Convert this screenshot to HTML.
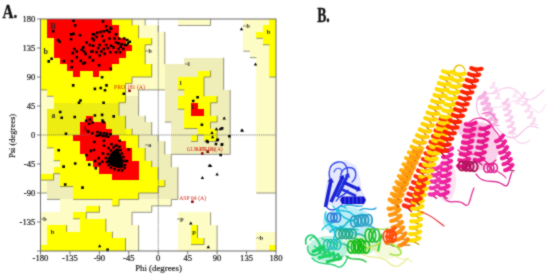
<!DOCTYPE html>
<html><head><meta charset="utf-8"><title>Ramachandran plot and structure</title>
<style>html,body{margin:0;padding:0;background:#fff;}body{width:550px;height:277px;overflow:hidden;}svg{display:block;}#fig{width:550px;height:277px;}</style>
</head><body>
<div id="fig">
<svg width="550" height="277" viewBox="0 0 550 277">
<defs><linearGradient id="gOr" gradientUnits="userSpaceOnUse" x1="0" y1="70" x2="0" y2="247"><stop offset="0" stop-color="#ffe000"/><stop offset="0.35" stop-color="#ffd000"/><stop offset="0.55" stop-color="#ffac10"/><stop offset="1" stop-color="#ff8a10"/></linearGradient></defs>
<defs><filter id="soft" x="0" y="0" width="100%" height="100%" filterUnits="userSpaceOnUse" color-interpolation-filters="sRGB"><feConvolveMatrix order="3" kernelMatrix="1 2 1 2 12 2 1 2 1" divisor="24" edgeMode="duplicate"/></filter></defs>
<g filter="url(#soft)">
<rect width="550" height="277" fill="#fff"/>
<g shape-rendering="crispEdges"><rect x="40.5" y="19" width="6.56" height="6.46" fill="#ffff00"/><rect x="47.04" y="19" width="65.44" height="6.46" fill="#ff0000"/><rect x="112.46" y="19" width="19.64" height="6.46" fill="#ffff00"/><rect x="132.08" y="19" width="13.1" height="6.46" fill="#fdfcc4"/><rect x="177.88" y="19" width="32.73" height="6.46" fill="#fdfcc4"/><rect x="243.29" y="19" width="26.19" height="6.46" fill="#fdfcc4"/><rect x="269.46" y="19" width="6.56" height="6.46" fill="#ffff00"/><rect x="40.5" y="25.44" width="6.56" height="6.46" fill="#ffff00"/><rect x="47.04" y="25.44" width="71.98" height="6.46" fill="#ff0000"/><rect x="119" y="25.44" width="19.64" height="6.46" fill="#ffff00"/><rect x="138.62" y="25.44" width="19.64" height="6.46" fill="#fdfcc4"/><rect x="243.29" y="25.44" width="19.64" height="6.46" fill="#fdfcc4"/><rect x="262.92" y="25.44" width="13.1" height="6.46" fill="#ffff00"/><rect x="40.5" y="31.89" width="6.56" height="6.46" fill="#ffff00"/><rect x="47.04" y="31.89" width="71.98" height="6.46" fill="#ff0000"/><rect x="119" y="31.89" width="19.64" height="6.46" fill="#ffff00"/><rect x="138.62" y="31.89" width="26.19" height="6.46" fill="#fdfcc4"/><rect x="243.29" y="31.89" width="13.1" height="6.46" fill="#fdfcc4"/><rect x="256.38" y="31.89" width="19.64" height="6.46" fill="#ffff00"/><rect x="40.5" y="38.33" width="13.1" height="6.46" fill="#ffff00"/><rect x="53.58" y="38.33" width="71.98" height="6.46" fill="#ff0000"/><rect x="125.54" y="38.33" width="26.19" height="6.46" fill="#ffff00"/><rect x="151.71" y="38.33" width="13.1" height="6.46" fill="#fdfcc4"/><rect x="243.29" y="38.33" width="19.64" height="6.46" fill="#fdfcc4"/><rect x="262.92" y="38.33" width="13.1" height="6.46" fill="#ffff00"/><rect x="40.5" y="44.78" width="13.1" height="6.46" fill="#ffff00"/><rect x="53.58" y="44.78" width="78.52" height="6.46" fill="#ff0000"/><rect x="132.08" y="44.78" width="13.1" height="6.46" fill="#ffff00"/><rect x="145.17" y="44.78" width="19.64" height="6.46" fill="#fdfcc4"/><rect x="243.29" y="44.78" width="26.19" height="6.46" fill="#fdfcc4"/><rect x="269.46" y="44.78" width="6.56" height="6.46" fill="#ffff00"/><rect x="40.5" y="51.22" width="13.1" height="6.46" fill="#ffff00"/><rect x="53.58" y="51.22" width="71.98" height="6.46" fill="#ff0000"/><rect x="125.54" y="51.22" width="19.65" height="6.46" fill="#ffff00"/><rect x="145.17" y="51.22" width="19.64" height="6.46" fill="#fdfcc4"/><rect x="249.83" y="51.22" width="19.65" height="6.46" fill="#fdfcc4"/><rect x="269.46" y="51.22" width="6.56" height="6.46" fill="#ffff00"/><rect x="40.5" y="57.67" width="19.64" height="6.46" fill="#ffff00"/><rect x="60.12" y="57.67" width="58.9" height="6.46" fill="#ff0000"/><rect x="119" y="57.67" width="26.19" height="6.46" fill="#ffff00"/><rect x="145.17" y="57.67" width="19.64" height="6.46" fill="#fdfcc4"/><rect x="184.42" y="57.67" width="39.27" height="6.46" fill="#efedb8"/><rect x="256.38" y="57.67" width="13.1" height="6.46" fill="#fdfcc4"/><rect x="269.46" y="57.67" width="6.56" height="6.46" fill="#ffff00"/><rect x="40.5" y="64.11" width="26.19" height="6.46" fill="#ffff00"/><rect x="66.67" y="64.11" width="45.81" height="6.46" fill="#ff0000"/><rect x="112.46" y="64.11" width="39.27" height="6.46" fill="#ffff00"/><rect x="151.71" y="64.11" width="13.1" height="6.46" fill="#fdfcc4"/><rect x="164.79" y="64.11" width="58.9" height="6.46" fill="#efedb8"/><rect x="256.38" y="64.11" width="13.1" height="6.46" fill="#fdfcc4"/><rect x="269.46" y="64.11" width="6.56" height="6.46" fill="#ffff00"/><rect x="40.5" y="70.56" width="32.73" height="6.46" fill="#ffff00"/><rect x="73.21" y="70.56" width="6.56" height="6.46" fill="#ff0000"/><rect x="79.75" y="70.56" width="13.1" height="6.46" fill="#ffff00"/><rect x="92.83" y="70.56" width="6.56" height="6.46" fill="#ff0000"/><rect x="99.38" y="70.56" width="52.35" height="6.46" fill="#ffff00"/><rect x="151.71" y="70.56" width="13.1" height="6.46" fill="#fdfcc4"/><rect x="164.79" y="70.56" width="32.73" height="6.46" fill="#efedb8"/><rect x="197.5" y="70.56" width="13.1" height="6.46" fill="#ffff00"/><rect x="210.58" y="70.56" width="13.1" height="6.46" fill="#efedb8"/><rect x="256.38" y="70.56" width="13.1" height="6.46" fill="#fdfcc4"/><rect x="269.46" y="70.56" width="6.56" height="6.46" fill="#ffff00"/><rect x="40.5" y="77" width="91.6" height="6.46" fill="#ffff00"/><rect x="132.08" y="77" width="32.73" height="6.46" fill="#fdfcc4"/><rect x="164.79" y="77" width="13.1" height="6.46" fill="#efedb8"/><rect x="177.88" y="77" width="26.19" height="6.46" fill="#ffff00"/><rect x="204.04" y="77" width="19.64" height="6.46" fill="#efedb8"/><rect x="256.38" y="77" width="19.64" height="6.46" fill="#fdfcc4"/><rect x="40.5" y="83.44" width="85.06" height="6.46" fill="#ffff00"/><rect x="125.54" y="83.44" width="39.27" height="6.46" fill="#fdfcc4"/><rect x="164.79" y="83.44" width="13.1" height="6.46" fill="#efedb8"/><rect x="177.88" y="83.44" width="26.19" height="6.46" fill="#ffff00"/><rect x="204.04" y="83.44" width="19.64" height="6.46" fill="#efedb8"/><rect x="256.38" y="83.44" width="19.64" height="6.46" fill="#fdfcc4"/><rect x="40.5" y="89.89" width="6.56" height="6.46" fill="#fdfcc4"/><rect x="47.04" y="89.89" width="78.52" height="6.46" fill="#ffff00"/><rect x="125.54" y="89.89" width="13.1" height="6.46" fill="#fdfcc4"/><rect x="164.79" y="89.89" width="19.64" height="6.46" fill="#efedb8"/><rect x="184.42" y="89.89" width="19.64" height="6.46" fill="#ffff00"/><rect x="204.04" y="89.89" width="26.19" height="6.46" fill="#efedb8"/><rect x="256.38" y="89.89" width="19.64" height="6.46" fill="#fdfcc4"/><rect x="40.5" y="96.33" width="13.1" height="6.46" fill="#fdfcc4"/><rect x="53.58" y="96.33" width="71.98" height="6.46" fill="#ffff00"/><rect x="125.54" y="96.33" width="13.1" height="6.46" fill="#efedb8"/><rect x="164.79" y="96.33" width="13.1" height="6.46" fill="#efedb8"/><rect x="177.88" y="96.33" width="39.27" height="6.46" fill="#ffff00"/><rect x="217.12" y="96.33" width="13.1" height="6.46" fill="#efedb8"/><rect x="256.38" y="96.33" width="19.64" height="6.46" fill="#fdfcc4"/><rect x="40.5" y="102.78" width="13.1" height="6.46" fill="#fdfcc4"/><rect x="53.58" y="102.78" width="65.44" height="6.46" fill="#eeed12"/><rect x="119" y="102.78" width="19.64" height="6.46" fill="#efedb8"/><rect x="164.79" y="102.78" width="13.1" height="6.46" fill="#efedb8"/><rect x="177.88" y="102.78" width="13.1" height="6.46" fill="#ffff00"/><rect x="190.96" y="102.78" width="6.56" height="6.46" fill="#ff0000"/><rect x="197.5" y="102.78" width="13.1" height="6.46" fill="#ffff00"/><rect x="210.58" y="102.78" width="19.64" height="6.46" fill="#efedb8"/><rect x="256.38" y="102.78" width="19.64" height="6.46" fill="#fdfcc4"/><rect x="40.5" y="109.22" width="6.56" height="6.46" fill="#fdfcc4"/><rect x="47.04" y="109.22" width="71.98" height="6.46" fill="#eeed12"/><rect x="119" y="109.22" width="19.64" height="6.46" fill="#efedb8"/><rect x="164.79" y="109.22" width="19.64" height="6.46" fill="#efedb8"/><rect x="184.42" y="109.22" width="6.56" height="6.46" fill="#ffff00"/><rect x="190.96" y="109.22" width="13.1" height="6.46" fill="#ff0000"/><rect x="204.04" y="109.22" width="6.56" height="6.46" fill="#ffff00"/><rect x="210.58" y="109.22" width="19.64" height="6.46" fill="#efedb8"/><rect x="256.38" y="109.22" width="19.64" height="6.46" fill="#fdfcc4"/><rect x="40.5" y="115.67" width="6.56" height="6.46" fill="#fdfcc4"/><rect x="47.04" y="115.67" width="39.27" height="6.46" fill="#eeed12"/><rect x="86.29" y="115.67" width="6.56" height="6.46" fill="#ff0000"/><rect x="92.83" y="115.67" width="32.73" height="6.46" fill="#eeed12"/><rect x="125.54" y="115.67" width="19.65" height="6.46" fill="#efedb8"/><rect x="164.79" y="115.67" width="19.64" height="6.46" fill="#efedb8"/><rect x="184.42" y="115.67" width="32.73" height="6.46" fill="#ffff00"/><rect x="217.12" y="115.67" width="13.1" height="6.46" fill="#efedb8"/><rect x="256.38" y="115.67" width="19.64" height="6.46" fill="#fdfcc4"/><rect x="40.5" y="122.11" width="6.56" height="6.46" fill="#fdfcc4"/><rect x="47.04" y="122.11" width="32.73" height="6.46" fill="#eeed12"/><rect x="79.75" y="122.11" width="26.19" height="6.46" fill="#ff0000"/><rect x="105.92" y="122.11" width="19.64" height="6.46" fill="#eeed12"/><rect x="125.54" y="122.11" width="26.19" height="6.46" fill="#efedb8"/><rect x="171.33" y="122.11" width="13.1" height="6.46" fill="#efedb8"/><rect x="184.42" y="122.11" width="26.19" height="6.46" fill="#ffff00"/><rect x="210.58" y="122.11" width="19.64" height="6.46" fill="#efedb8"/><rect x="256.38" y="122.11" width="19.64" height="6.46" fill="#fdfcc4"/><rect x="40.5" y="128.56" width="6.56" height="6.46" fill="#fdfcc4"/><rect x="47.04" y="128.56" width="32.73" height="6.46" fill="#eeed12"/><rect x="79.75" y="128.56" width="32.73" height="6.46" fill="#ff0000"/><rect x="112.46" y="128.56" width="13.1" height="6.46" fill="#eeed12"/><rect x="125.54" y="128.56" width="6.56" height="6.46" fill="#ffff00"/><rect x="132.08" y="128.56" width="19.64" height="6.46" fill="#efedb8"/><rect x="171.33" y="128.56" width="26.19" height="6.46" fill="#efedb8"/><rect x="197.5" y="128.56" width="19.64" height="6.46" fill="#ffff00"/><rect x="217.12" y="128.56" width="13.1" height="6.46" fill="#efedb8"/><rect x="256.38" y="128.56" width="19.64" height="6.46" fill="#fdfcc4"/><rect x="40.5" y="135" width="6.56" height="6.46" fill="#fdfcc4"/><rect x="47.04" y="135" width="26.19" height="6.46" fill="#ffff00"/><rect x="73.21" y="135" width="45.81" height="6.46" fill="#ff0000"/><rect x="119" y="135" width="19.64" height="6.46" fill="#ffff00"/><rect x="138.62" y="135" width="19.64" height="6.46" fill="#efedb8"/><rect x="171.33" y="135" width="19.64" height="6.46" fill="#efedb8"/><rect x="190.96" y="135" width="6.56" height="6.46" fill="#ffff00"/><rect x="197.5" y="135" width="6.56" height="6.46" fill="#efedb8"/><rect x="204.04" y="135" width="13.1" height="6.46" fill="#ffff00"/><rect x="217.12" y="135" width="13.1" height="6.46" fill="#efedb8"/><rect x="256.38" y="135" width="19.64" height="6.46" fill="#fdfcc4"/><rect x="40.5" y="141.44" width="6.56" height="6.46" fill="#fdfcc4"/><rect x="47.04" y="141.44" width="32.73" height="6.46" fill="#ffff00"/><rect x="79.75" y="141.44" width="45.81" height="6.46" fill="#ff0000"/><rect x="125.54" y="141.44" width="13.1" height="6.46" fill="#ffff00"/><rect x="138.62" y="141.44" width="26.19" height="6.46" fill="#efedb8"/><rect x="171.33" y="141.44" width="58.9" height="6.46" fill="#efedb8"/><rect x="256.38" y="141.44" width="19.64" height="6.46" fill="#fdfcc4"/><rect x="40.5" y="147.89" width="13.1" height="6.46" fill="#fdfcc4"/><rect x="53.58" y="147.89" width="26.19" height="6.46" fill="#ffff00"/><rect x="79.75" y="147.89" width="52.35" height="6.46" fill="#ff0000"/><rect x="132.08" y="147.89" width="13.1" height="6.46" fill="#ffff00"/><rect x="145.17" y="147.89" width="19.64" height="6.46" fill="#efedb8"/><rect x="171.33" y="147.89" width="58.9" height="6.46" fill="#efedb8"/><rect x="256.38" y="147.89" width="19.64" height="6.46" fill="#fdfcc4"/><rect x="40.5" y="154.33" width="13.1" height="6.46" fill="#fdfcc4"/><rect x="53.58" y="154.33" width="32.73" height="6.46" fill="#ffff00"/><rect x="86.29" y="154.33" width="45.81" height="6.46" fill="#ff0000"/><rect x="132.08" y="154.33" width="13.1" height="6.46" fill="#ffff00"/><rect x="145.17" y="154.33" width="26.19" height="6.46" fill="#efedb8"/><rect x="256.38" y="154.33" width="19.64" height="6.46" fill="#fdfcc4"/><rect x="40.5" y="160.78" width="19.64" height="6.46" fill="#fdfcc4"/><rect x="60.12" y="160.78" width="32.73" height="6.46" fill="#ffff00"/><rect x="92.83" y="160.78" width="45.81" height="6.46" fill="#ff0000"/><rect x="138.62" y="160.78" width="13.1" height="6.46" fill="#ffff00"/><rect x="151.71" y="160.78" width="19.64" height="6.46" fill="#efedb8"/><rect x="256.38" y="160.78" width="19.64" height="6.46" fill="#fdfcc4"/><rect x="40.5" y="167.22" width="13.1" height="6.46" fill="#fdfcc4"/><rect x="53.58" y="167.22" width="45.81" height="6.46" fill="#ffff00"/><rect x="99.38" y="167.22" width="39.27" height="6.46" fill="#ff0000"/><rect x="138.62" y="167.22" width="19.64" height="6.46" fill="#ffff00"/><rect x="158.25" y="167.22" width="19.64" height="6.46" fill="#efedb8"/><rect x="256.38" y="167.22" width="19.64" height="6.46" fill="#fdfcc4"/><rect x="40.5" y="173.67" width="13.1" height="6.46" fill="#ffff00"/><rect x="53.58" y="173.67" width="6.56" height="6.46" fill="#efedb8"/><rect x="60.12" y="173.67" width="52.35" height="6.46" fill="#ffff00"/><rect x="112.46" y="173.67" width="26.19" height="6.46" fill="#ff0000"/><rect x="138.62" y="173.67" width="19.64" height="6.46" fill="#ffff00"/><rect x="158.25" y="173.67" width="19.64" height="6.46" fill="#efedb8"/><rect x="256.38" y="173.67" width="19.64" height="6.46" fill="#fdfcc4"/><rect x="40.5" y="180.11" width="6.56" height="6.46" fill="#fdfcc4"/><rect x="47.04" y="180.11" width="13.1" height="6.46" fill="#efedb8"/><rect x="60.12" y="180.11" width="104.69" height="6.46" fill="#ffff00"/><rect x="164.79" y="180.11" width="13.1" height="6.46" fill="#efedb8"/><rect x="256.38" y="180.11" width="19.64" height="6.46" fill="#fdfcc4"/><rect x="40.5" y="186.56" width="6.56" height="6.46" fill="#fdfcc4"/><rect x="47.04" y="186.56" width="26.19" height="6.46" fill="#efedb8"/><rect x="73.21" y="186.56" width="85.06" height="6.46" fill="#ffff00"/><rect x="158.25" y="186.56" width="19.64" height="6.46" fill="#efedb8"/><rect x="256.38" y="186.56" width="19.64" height="6.46" fill="#fdfcc4"/><rect x="47.04" y="193" width="26.19" height="6.46" fill="#efedb8"/><rect x="73.21" y="193" width="65.44" height="6.46" fill="#ffff00"/><rect x="138.62" y="193" width="39.27" height="6.46" fill="#efedb8"/><rect x="60.12" y="199.44" width="52.35" height="6.46" fill="#fdfcc4"/><rect x="112.46" y="199.44" width="6.56" height="6.46" fill="#ffff00"/><rect x="119" y="199.44" width="52.35" height="6.46" fill="#fdfcc4"/><rect x="60.12" y="205.89" width="26.19" height="6.46" fill="#fdfcc4"/><rect x="86.29" y="205.89" width="13.1" height="6.46" fill="#ffff00"/><rect x="99.38" y="205.89" width="52.35" height="6.46" fill="#fdfcc4"/><rect x="40.5" y="212.33" width="32.73" height="6.46" fill="#fdfcc4"/><rect x="73.21" y="212.33" width="13.1" height="6.46" fill="#ffff00"/><rect x="86.29" y="212.33" width="45.81" height="6.46" fill="#fdfcc4"/><rect x="177.88" y="212.33" width="32.73" height="6.46" fill="#fdfcc4"/><rect x="40.5" y="218.78" width="39.27" height="6.46" fill="#fdfcc4"/><rect x="79.75" y="218.78" width="26.19" height="6.46" fill="#ffff00"/><rect x="105.92" y="218.78" width="26.19" height="6.46" fill="#fdfcc4"/><rect x="177.88" y="218.78" width="32.73" height="6.46" fill="#fdfcc4"/><rect x="40.5" y="225.22" width="6.56" height="6.46" fill="#fdfcc4"/><rect x="47.04" y="225.22" width="19.65" height="6.46" fill="#ffff00"/><rect x="66.67" y="225.22" width="13.1" height="6.46" fill="#fdfcc4"/><rect x="79.75" y="225.22" width="26.19" height="6.46" fill="#ffff00"/><rect x="105.92" y="225.22" width="32.73" height="6.46" fill="#fdfcc4"/><rect x="177.88" y="225.22" width="13.1" height="6.46" fill="#fdfcc4"/><rect x="190.96" y="225.22" width="6.56" height="6.46" fill="#ffff00"/><rect x="197.5" y="225.22" width="19.64" height="6.46" fill="#fdfcc4"/><rect x="40.5" y="231.67" width="6.56" height="6.46" fill="#fdfcc4"/><rect x="47.04" y="231.67" width="65.44" height="6.46" fill="#ffff00"/><rect x="112.46" y="231.67" width="26.19" height="6.46" fill="#fdfcc4"/><rect x="177.88" y="231.67" width="13.1" height="6.46" fill="#fdfcc4"/><rect x="190.96" y="231.67" width="6.56" height="6.46" fill="#ffff00"/><rect x="197.5" y="231.67" width="19.64" height="6.46" fill="#fdfcc4"/><rect x="256.38" y="231.67" width="19.64" height="6.46" fill="#fdfcc4"/><rect x="40.5" y="238.11" width="6.56" height="6.46" fill="#fdfcc4"/><rect x="47.04" y="238.11" width="78.52" height="6.46" fill="#ffff00"/><rect x="125.54" y="238.11" width="13.1" height="6.46" fill="#fdfcc4"/><rect x="177.88" y="238.11" width="13.1" height="6.46" fill="#fdfcc4"/><rect x="190.96" y="238.11" width="13.1" height="6.46" fill="#ffff00"/><rect x="204.04" y="238.11" width="13.1" height="6.46" fill="#fdfcc4"/><rect x="256.38" y="238.11" width="19.64" height="6.46" fill="#fdfcc4"/><rect x="40.5" y="244.56" width="85.06" height="6.46" fill="#ffff00"/><rect x="125.54" y="244.56" width="13.1" height="6.46" fill="#fdfcc4"/><rect x="177.88" y="244.56" width="39.27" height="6.46" fill="#fdfcc4"/><rect x="256.38" y="244.56" width="13.1" height="6.46" fill="#fdfcc4"/><rect x="269.46" y="244.56" width="6.56" height="6.46" fill="#ffff00"/></g>
<path d="M132.08 19L132.08 25.44M145.17 19L145.17 25.44M177.88 25.44L184.42 25.44M184.42 25.44L190.96 25.44M190.96 25.44L197.5 25.44M197.5 25.44L204.04 25.44M210.58 19L210.58 25.44M204.04 25.44L210.58 25.44M138.62 25.44L138.62 31.89M158.25 25.44L158.25 31.89M138.62 31.89L138.62 38.33M164.79 31.89L164.79 38.33M256.38 38.33L262.92 38.33M151.71 38.33L151.71 44.78M145.17 44.78L151.71 44.78M164.79 38.33L164.79 44.78M262.92 44.78L269.46 44.78M145.17 44.78L145.17 51.22M164.79 44.78L164.79 51.22M243.29 51.22L249.83 51.22M145.17 51.22L145.17 57.67M164.79 51.22L164.79 57.67M249.83 57.67L256.38 57.67M145.17 57.67L145.17 64.11M164.79 57.67L164.79 64.11M223.67 57.67L223.67 64.11M151.71 64.11L151.71 70.56M223.67 64.11L223.67 70.56M132.08 77L138.62 77M138.62 77L145.17 77M151.71 70.56L151.71 77M145.17 77L151.71 77M210.58 70.56L210.58 77M204.04 77L210.58 77M223.67 70.56L223.67 77M269.46 77L276 77M132.08 77L132.08 83.44M125.54 83.44L132.08 83.44M204.04 77L204.04 83.44M223.67 77L223.67 83.44M40.5 89.89L47.04 89.89M125.54 83.44L125.54 89.89M138.62 89.89L145.17 89.89M145.17 89.89L151.71 89.89M151.71 89.89L158.25 89.89M158.25 89.89L164.79 89.89M177.88 89.89L184.42 89.89M204.04 83.44L204.04 89.89M223.67 83.44L223.67 89.89M47.04 96.33L53.58 96.33M125.54 89.89L125.54 96.33M138.62 89.89L138.62 96.33M204.04 89.89L204.04 96.33M230.21 89.89L230.21 96.33M125.54 96.33L125.54 102.78M119 102.78L125.54 102.78M138.62 96.33L138.62 102.78M217.12 96.33L217.12 102.78M210.58 102.78L217.12 102.78M230.21 96.33L230.21 102.78M119 102.78L119 109.22M138.62 102.78L138.62 109.22M177.88 109.22L184.42 109.22M210.58 102.78L210.58 109.22M230.21 102.78L230.21 109.22M119 109.22L119 115.67M138.62 109.22L138.62 115.67M210.58 109.22L210.58 115.67M230.21 109.22L230.21 115.67M125.54 115.67L125.54 122.11M145.17 115.67L145.17 122.11M164.79 122.11L171.33 122.11M217.12 115.67L217.12 122.11M210.58 122.11L217.12 122.11M230.21 115.67L230.21 122.11M125.54 122.11L125.54 128.56M151.71 122.11L151.71 128.56M184.42 128.56L190.96 128.56M190.96 128.56L197.5 128.56M210.58 122.11L210.58 128.56M230.21 122.11L230.21 128.56M132.08 128.56L132.08 135M151.71 128.56L151.71 135M197.5 135L204.04 135M217.12 128.56L217.12 135M230.21 128.56L230.21 135M138.62 135L138.62 141.44M158.25 135L158.25 141.44M197.5 135L197.5 141.44M190.96 141.44L197.5 141.44M204.04 141.44L210.58 141.44M217.12 135L217.12 141.44M210.58 141.44L217.12 141.44M230.21 135L230.21 141.44M47.04 147.89L53.58 147.89M138.62 141.44L138.62 147.89M164.79 141.44L164.79 147.89M230.21 141.44L230.21 147.89M145.17 147.89L145.17 154.33M164.79 147.89L164.79 154.33M171.33 154.33L177.88 154.33M177.88 154.33L184.42 154.33M184.42 154.33L190.96 154.33M190.96 154.33L197.5 154.33M197.5 154.33L204.04 154.33M204.04 154.33L210.58 154.33M210.58 154.33L217.12 154.33M217.12 154.33L223.67 154.33M230.21 147.89L230.21 154.33M223.67 154.33L230.21 154.33M53.58 160.78L60.12 160.78M145.17 154.33L145.17 160.78M171.33 154.33L171.33 160.78M151.71 160.78L151.71 167.22M171.33 160.78L171.33 167.22M53.58 173.67L60.12 173.67M158.25 167.22L158.25 173.67M177.88 167.22L177.88 173.67M40.5 180.11L47.04 180.11M53.58 173.67L53.58 180.11M47.04 180.11L53.58 180.11M158.25 173.67L158.25 180.11M177.88 173.67L177.88 180.11M60.12 186.56L66.67 186.56M66.67 186.56L73.21 186.56M164.79 180.11L164.79 186.56M158.25 186.56L164.79 186.56M177.88 180.11L177.88 186.56M40.5 193L47.04 193M138.62 193L145.17 193M145.17 193L151.71 193M158.25 186.56L158.25 193M151.71 193L158.25 193M177.88 186.56L177.88 193M256.38 193L262.92 193M262.92 193L269.46 193M269.46 193L276 193M47.04 199.44L53.58 199.44M53.58 199.44L60.12 199.44M73.21 199.44L79.75 199.44M79.75 199.44L86.29 199.44M86.29 199.44L92.83 199.44M92.83 199.44L99.38 199.44M99.38 199.44L105.92 199.44M105.92 199.44L112.46 199.44M119 199.44L125.54 199.44M125.54 199.44L132.08 199.44M138.62 193L138.62 199.44M132.08 199.44L138.62 199.44M177.88 193L177.88 199.44M171.33 199.44L177.88 199.44M119 199.44L119 205.89M112.46 205.89L119 205.89M151.71 205.89L158.25 205.89M158.25 205.89L164.79 205.89M171.33 199.44L171.33 205.89M164.79 205.89L171.33 205.89M86.29 212.33L92.83 212.33M99.38 205.89L99.38 212.33M92.83 212.33L99.38 212.33M132.08 212.33L138.62 212.33M138.62 212.33L145.17 212.33M151.71 205.89L151.71 212.33M145.17 212.33L151.71 212.33M73.21 218.78L79.75 218.78M86.29 212.33L86.29 218.78M132.08 212.33L132.08 218.78M210.58 212.33L210.58 218.78M105.92 218.78L105.92 225.22M132.08 218.78L132.08 225.22M210.58 218.78L210.58 225.22M66.67 225.22L66.67 231.67M105.92 225.22L105.92 231.67M138.62 225.22L138.62 231.67M197.5 225.22L197.5 231.67M217.12 225.22L217.12 231.67M112.46 231.67L112.46 238.11M138.62 231.67L138.62 238.11M197.5 231.67L197.5 238.11M217.12 231.67L217.12 238.11M125.54 238.11L125.54 244.56M138.62 238.11L138.62 244.56M190.96 244.56L197.5 244.56M204.04 238.11L204.04 244.56M197.5 244.56L204.04 244.56M217.12 238.11L217.12 244.56M125.54 244.56L125.54 251M138.62 244.56L138.62 251M217.12 244.56L217.12 251" stroke="#7a7a6a" stroke-width="0.8" fill="none"/>
<line x1="158.25" y1="19" x2="158.25" y2="251" stroke="#6a6a6a" stroke-width="0.8" stroke-dasharray="1.3 0.8"/>
<line x1="40.5" y1="135" x2="276" y2="135" stroke="#6a6a6a" stroke-width="0.8" stroke-dasharray="1.3 0.8"/>
<g font-family="Liberation Serif, serif" font-weight="bold" fill="#2a2a2a">
<text x="53.2" y="28.61" font-size="8.5" text-anchor="middle">B</text>
<text x="45.8" y="54.14" font-size="8" text-anchor="middle">b</text>
<text x="53.3" y="117.97" font-size="7.5" text-anchor="middle">a</text>
<text x="85.2" y="131.6" font-size="7.5" text-anchor="middle" font-weight="normal" fill="#400">A</text>
<text x="193.6" y="108.64" font-size="6.5" text-anchor="middle">L</text>
<text x="180.6" y="85.44" font-size="6.5" text-anchor="middle">l</text>
<text x="194" y="234.45" font-size="6.5" text-anchor="middle">p</text>
<text x="268.6" y="33.65" font-size="6.5" text-anchor="middle">b</text>
<text x="148.6" y="52.78" font-size="6" text-anchor="middle">~b</text>
<text x="246.6" y="27.78" font-size="6" text-anchor="middle">~b</text>
<text x="148.2" y="147.48" font-size="6" text-anchor="middle">~a</text>
<text x="187.4" y="65.78" font-size="6" text-anchor="middle">~l</text>
<text x="180.4" y="220.98" font-size="6" text-anchor="middle">~p</text>
<text x="259.8" y="240.18" font-size="6" text-anchor="middle">~b</text>
<text x="43.4" y="220.68" font-size="6" text-anchor="middle">~b</text>
<text x="52.6" y="233.75" font-size="6.5" text-anchor="middle">b</text>
</g>
<polygon points="108.4,157.2 110.6,153.6 112.9,151.1 115.6,148.9 117.8,147.7 119.6,150 119.4,153.1 121.4,155.8 122.5,158.5 123,163 123.5,166.6 121.4,168.5 118,168.1 114.2,167.1 110.6,165.3 108.4,163 107.2,160.1" fill="#000"/>
<path d="M72.2 19.3h2.6v2.6h-2.6zM73.9 24.2h2.6v2.6h-2.6zM51.9 29.9h2.6v2.6h-2.6zM69.8 33.1h2.6v2.6h-2.6zM72.2 32.6h2.6v2.6h-2.6zM78.7 33.9h2.6v2.6h-2.6zM91.7 33.1h2.6v2.6h-2.6zM56.8 38.8h2.6v2.6h-2.6zM58.4 40.4h2.6v2.6h-2.6zM69.8 38h2.6v2.6h-2.6zM85.2 41.2h2.6v2.6h-2.6zM92.5 38.8h2.6v2.6h-2.6zM88.5 43.7h2.6v2.6h-2.6zM82 46.1h2.6v2.6h-2.6zM73.1 47.7h2.6v2.6h-2.6zM75.5 50.2h2.6v2.6h-2.6zM80.4 48.5h2.6v2.6h-2.6zM82.8 50.2h2.6v2.6h-2.6zM90.1 50.2h2.6v2.6h-2.6zM75.5 55.8h2.6v2.6h-2.6zM71.4 51.8h2.6v2.6h-2.6zM84.4 52.6h2.6v2.6h-2.6zM88.5 55.8h2.6v2.6h-2.6zM50.3 57.5h2.6v2.6h-2.6zM62.5 59.9h2.6v2.6h-2.6zM70.6 59.9h2.6v2.6h-2.6zM79.5 59.6h2.6v2.6h-2.6zM83.6 61.5h2.6v2.6h-2.6zM91.7 59.1h2.6v2.6h-2.6zM101.7 20.1h2.6v2.6h-2.6zM104.9 25h2.6v2.6h-2.6zM109 26.6h2.6v2.6h-2.6zM96 31.5h2.6v2.6h-2.6zM92.7 33.1h2.6v2.6h-2.6zM99.3 30.7h2.6v2.6h-2.6zM102.5 29.9h2.6v2.6h-2.6zM105.7 29.1h2.6v2.6h-2.6zM108.2 30.7h2.6v2.6h-2.6zM109.8 27.4h2.6v2.6h-2.6zM114.7 33.1h2.6v2.6h-2.6zM100.9 34.7h2.6v2.6h-2.6zM95.2 35.6h2.6v2.6h-2.6zM91.1 37.2h2.6v2.6h-2.6zM108.2 37.2h2.6v2.6h-2.6zM113.1 37.2h2.6v2.6h-2.6zM117.9 37.2h2.6v2.6h-2.6zM122.8 37.2h2.6v2.6h-2.6zM126 38.8h2.6v2.6h-2.6zM128.5 40.4h2.6v2.6h-2.6zM102.5 39.6h2.6v2.6h-2.6zM114.7 41.2h2.6v2.6h-2.6zM117.1 42.1h2.6v2.6h-2.6zM120.4 42.9h2.6v2.6h-2.6zM123.6 43.7h2.6v2.6h-2.6zM98.4 43.7h2.6v2.6h-2.6zM104.9 43.7h2.6v2.6h-2.6zM109.8 44.5h2.6v2.6h-2.6zM91.9 44.5h2.6v2.6h-2.6zM96.8 46.9h2.6v2.6h-2.6zM102.5 47.7h2.6v2.6h-2.6zM106.6 46.9h2.6v2.6h-2.6zM112.2 46.1h2.6v2.6h-2.6zM117.1 47.7h2.6v2.6h-2.6zM122 47.7h2.6v2.6h-2.6zM125.2 43.7h2.6v2.6h-2.6zM91.1 50.2h2.6v2.6h-2.6zM95.2 51h2.6v2.6h-2.6zM100.1 50.2h2.6v2.6h-2.6zM109 51h2.6v2.6h-2.6zM114.7 51h2.6v2.6h-2.6zM118.7 51h2.6v2.6h-2.6zM98.4 54.2h2.6v2.6h-2.6zM103.3 52.6h2.6v2.6h-2.6zM126.8 42.1h2.6v2.6h-2.6zM119.5 45.3h2.6v2.6h-2.6zM47.4 60.1h2.6v2.6h-2.6zM70.5 65.9h2.6v2.6h-2.6zM82.1 62.2h2.6v2.6h-2.6zM97.9 63.9h2.6v2.6h-2.6zM109.5 67.4h2.6v2.6h-2.6zM100.8 76h2.6v2.6h-2.6zM71.9 84.1h2.6v2.6h-2.6zM93.6 87.6h2.6v2.6h-2.6zM99.4 86.7h2.6v2.6h-2.6zM103.7 89h2.6v2.6h-2.6zM105.2 84.1h2.6v2.6h-2.6zM122.5 92.5h2.6v2.6h-2.6zM79.2 99.2h2.6v2.6h-2.6zM77.7 101.5h2.6v2.6h-2.6zM102.3 101.5h2.6v2.6h-2.6zM58.9 110.7h2.6v2.6h-2.6zM60.4 116.5h2.6v2.6h-2.6zM73.4 115.7h2.6v2.6h-2.6zM93.6 114.2h2.6v2.6h-2.6zM100.8 113.6h2.6v2.6h-2.6zM112.4 115.1h2.6v2.6h-2.6zM84.9 119.4h2.6v2.6h-2.6zM102.3 120.8h2.6v2.6h-2.6zM64.7 132.4h2.6v2.6h-2.6zM196.3 95.9h2.6v2.6h-2.6zM191.9 99.7h2.6v2.6h-2.6zM200.6 123.4h2.6v2.6h-2.6zM220.8 127.1h2.6v2.6h-2.6zM216.5 138.4h2.6v2.6h-2.6zM228.1 134.9h2.6v2.6h-2.6zM206.4 140.7h2.6v2.6h-2.6zM220.8 143h2.6v2.6h-2.6zM219.4 153.7h2.6v2.6h-2.6zM205.7 139.7h2.6v2.6h-2.6zM214.7 142.7h2.6v2.6h-2.6zM220.5 143.5h2.6v2.6h-2.6zM62.3 165.3h2.6v2.6h-2.6zM63.9 183.2h2.6v2.6h-2.6zM88.7 118.2h2.6v2.6h-2.6zM91.2 121.2h2.6v2.6h-2.6zM87.7 122.5h2.6v2.6h-2.6zM101.2 119.3h2.6v2.6h-2.6zM96.2 130.7h2.6v2.6h-2.6zM99.2 131.7h2.6v2.6h-2.6zM102.7 132h2.6v2.6h-2.6zM105.7 132.5h2.6v2.6h-2.6zM109.2 133h2.6v2.6h-2.6zM57.4 149h2.6v2.6h-2.6zM73.9 162.2h2.6v2.6h-2.6zM81.2 186.3h2.6v2.6h-2.6zM106.3 248.6h2.6v2.6h-2.6zM95.5 134.4h2.6v2.6h-2.6zM98.2 133.9h2.6v2.6h-2.6zM101.2 134.6h2.6v2.6h-2.6zM104.2 135h2.6v2.6h-2.6zM106.9 135.5h2.6v2.6h-2.6zM86.9 130.3h2.6v2.6h-2.6zM91 131.9h2.6v2.6h-2.6zM93.1 140.7h2.6v2.6h-2.6zM102.7 144.5h2.6v2.6h-2.6zM110.2 143h2.6v2.6h-2.6zM114.3 144.5h2.6v2.6h-2.6zM118.4 139.5h2.6v2.6h-2.6zM102.5 139.5h2.6v2.6h-2.6zM85.1 153.9h2.6v2.6h-2.6zM89.5 149.6h2.6v2.6h-2.6zM93.8 159.7h2.6v2.6h-2.6zM98.2 162.6h2.6v2.6h-2.6zM101 160.4h2.6v2.6h-2.6zM97.4 156.8h2.6v2.6h-2.6zM88 163.3h2.6v2.6h-2.6zM94.5 166.9h2.6v2.6h-2.6zM125.6 159.7h2.6v2.6h-2.6zM127.1 148.2h2.6v2.6h-2.6zM101.7 152.2h2.6v2.6h-2.6zM107.2 146.7h2.6v2.6h-2.6zM92.7 148.7h2.6v2.6h-2.6zM104.7 156.7h2.6v2.6h-2.6zM105.7 160.7h2.6v2.6h-2.6zM107.2 163.7h2.6v2.6h-2.6zM109.7 166.2h2.6v2.6h-2.6zM113.2 167.9h2.6v2.6h-2.6zM117.2 168.9h2.6v2.6h-2.6zM120.7 169.2h2.6v2.6h-2.6zM123.2 166.7h2.6v2.6h-2.6zM123.7 163.7h2.6v2.6h-2.6zM122.9 159.7h2.6v2.6h-2.6zM122.1 155.7h2.6v2.6h-2.6zM120.5 152.2h2.6v2.6h-2.6zM119.2 148.7h2.6v2.6h-2.6zM118.2 145.5h2.6v2.6h-2.6zM115.2 144.2h2.6v2.6h-2.6zM112.2 146.2h2.6v2.6h-2.6zM109.5 149.2h2.6v2.6h-2.6zM106.7 152.7h2.6v2.6h-2.6z" fill="#000"/>
<path d="M241.5 27.2L243.2 30.2L239.8 30.2zM255.5 62.4L257.2 65.4L253.8 65.4zM241.8 128.6L243.5 131.6L240.1 131.6zM224.2 116.5L225.9 119.5L222.5 119.5zM216.4 127.2L218.1 130.2L214.7 130.2zM220.1 127.2L221.8 130.2L218.4 130.2zM212 131L213.7 134L210.3 134zM212.6 135.3L214.3 138.3L210.9 138.3zM242.4 128.7L244.1 131.7L240.7 131.7zM210.6 163.9L212.3 166.9L208.9 166.9zM209.4 163.7L211.1 166.7L207.7 166.7zM217.1 172.5L218.8 175.5L215.4 175.5zM202.4 176L204.1 179L200.7 179zM190.8 221.6L192.5 224.6L189.1 224.6zM208.3 245.2L210 248.2L206.6 248.2zM99.7 244.3L101.4 247.3L98 247.3zM217 138.2L218.7 141.2L215.3 141.2z" fill="#000"/>
<path d="M128.2 89.5h2.6v2.6h-2.6zM201 152.2h2.6v2.6h-2.6zM206.4 150.3h2.6v2.6h-2.6zM191.1 200.4h2.6v2.6h-2.6z" fill="#8a0010"/>
<g font-family="Liberation Serif, serif" font-size="6.2" fill="#d02a18" lengthAdjust="spacingAndGlyphs">
<text x="114" y="88.6" textLength="31" lengthAdjust="spacingAndGlyphs">PRO 181 (A)</text>
<text x="186.8" y="150.6" textLength="28.5" lengthAdjust="spacingAndGlyphs">GLN 179 (A)</text>
<text x="195.2" y="150.6" textLength="27.5" lengthAdjust="spacingAndGlyphs">ARG 93 (A)</text>
<text x="179.2" y="200.2" textLength="27" lengthAdjust="spacingAndGlyphs">ASP 64 (A)</text>
</g>
<rect x="40.5" y="19" width="235.5" height="232" fill="none" stroke="#6a6a6a" stroke-width="1"/>
<g stroke="#555" stroke-width="0.8"><line x1="37" y1="19" x2="40.5" y2="19"/><line x1="37" y1="48" x2="40.5" y2="48"/><line x1="37" y1="77" x2="40.5" y2="77"/><line x1="37" y1="106" x2="40.5" y2="106"/><line x1="37" y1="135" x2="40.5" y2="135"/><line x1="37" y1="164" x2="40.5" y2="164"/><line x1="37" y1="193" x2="40.5" y2="193"/><line x1="37" y1="222" x2="40.5" y2="222"/><line x1="37" y1="251" x2="40.5" y2="251"/><line x1="40.5" y1="251" x2="40.5" y2="254.5"/><line x1="69.94" y1="251" x2="69.94" y2="254.5"/><line x1="99.38" y1="251" x2="99.38" y2="254.5"/><line x1="128.81" y1="251" x2="128.81" y2="254.5"/><line x1="158.25" y1="251" x2="158.25" y2="254.5"/><line x1="187.69" y1="251" x2="187.69" y2="254.5"/><line x1="217.12" y1="251" x2="217.12" y2="254.5"/><line x1="246.56" y1="251" x2="246.56" y2="254.5"/><line x1="276" y1="251" x2="276" y2="254.5"/></g>
<g font-family="Liberation Serif, serif" font-size="8.6" fill="#111" stroke="#111" stroke-width="0.18"><text class="tk" x="35.3" y="21.9" text-anchor="end">180</text><text class="tk" x="35.3" y="50.9" text-anchor="end">135</text><text class="tk" x="35.3" y="79.9" text-anchor="end">90</text><text class="tk" x="35.3" y="108.9" text-anchor="end">45</text><text class="tk" x="35.3" y="137.9" text-anchor="end">0</text><text class="tk" x="35.3" y="166.9" text-anchor="end">-45</text><text class="tk" x="35.3" y="195.9" text-anchor="end">-90</text><text class="tk" x="35.3" y="224.9" text-anchor="end">-135</text><text class="tk" x="40.5" y="260.5" text-anchor="middle">-180</text><text class="tk" x="69.94" y="260.5" text-anchor="middle">-135</text><text class="tk" x="99.38" y="260.5" text-anchor="middle">-90</text><text class="tk" x="128.81" y="260.5" text-anchor="middle">-45</text><text class="tk" x="158.25" y="260.5" text-anchor="middle">0</text><text class="tk" x="187.69" y="260.5" text-anchor="middle">45</text><text class="tk" x="217.12" y="260.5" text-anchor="middle">90</text><text class="tk" x="246.56" y="260.5" text-anchor="middle">135</text><text class="tk" x="276" y="260.5" text-anchor="middle">180</text></g>
<text x="158.5" y="271" font-family="Liberation Serif, serif" font-size="8.8" fill="#111" stroke="#111" stroke-width="0.15" text-anchor="middle">Phi (degrees)</text>
<text transform="translate(14.6 136) rotate(-90)" font-family="Liberation Serif, serif" font-size="8.5" fill="#111" stroke="#111" stroke-width="0.15" text-anchor="middle">Psi (degrees)</text>
<text transform="translate(2.5 18.4) scale(0.8 1)" font-family="Liberation Serif, serif" font-weight="bold" font-size="19" stroke="#111" stroke-width="0.3" fill="#111">A.</text>
<text transform="translate(317.2 21.7) scale(0.62 1)" font-family="Liberation Serif, serif" font-weight="bold" font-size="22" stroke="#111" stroke-width="0.4" fill="#111">B.</text>
<g><path d="M476 100 C482 90 490 96 496 92 S512 84 520 94 S534 100 544 90" fill="none" stroke="#f7c8ec" stroke-width="1.1" opacity="0.9" stroke-linecap="round"/><path d="M480 112 C490 104 500 110 508 104 S524 100 532 108 S542 112 546 104" fill="none" stroke="#f8cfee" stroke-width="1" opacity="0.8" stroke-linecap="round"/><g opacity="0.9"><path d="M480.05 97.92Q483.24 97.31 487.1 98.48M482.15 103.52Q485.34 102.91 489.2 104.07M484.25 109.12Q487.42 108.38 491.26 109.41M486.74 114.84Q489.87 113.97 493.8 114.82M489.29 120.25Q492.42 119.38 496.35 120.23M491.83 125.66Q494.96 124.79 498.9 125.64" fill="none" stroke="#e890d0" stroke-width="1.23" stroke-linecap="round"/><path d="M485 92.88Q483.3 97.46 480.05 97.92M487.1 98.48Q485.4 103.06 482.15 103.52M489.2 104.07Q487.5 108.66 484.25 109.12M491.26 109.41Q489.94 114.12 486.74 114.84M493.8 114.82Q492.48 119.53 489.29 120.25M496.35 120.23Q495.03 124.94 491.83 125.66" fill="none" stroke="#f5acdf" stroke-width="4.1" stroke-linecap="round"/></g><g opacity="0.85"><path d="M502.81 103.59Q505.81 103.45 509.24 105.15M504.18 109.41Q507.18 109.27 510.61 110.97M505.55 115.24Q508.55 115.12 511.99 116.84M506.88 121.04Q509.87 120.93 513.28 122.68M508.17 126.88Q511.17 126.78 514.58 128.52M509.47 132.72Q512.47 132.62 515.88 134.36" fill="none" stroke="#eea8de" stroke-width="0.9" stroke-linecap="round"/><path d="M507.87 99.32Q505.85 103.6 502.81 103.59M509.24 105.15Q507.22 109.43 504.18 109.41M510.61 110.97Q508.59 115.25 505.55 115.24M511.99 116.84Q509.91 121.09 506.88 121.04M513.28 122.68Q511.21 126.93 508.17 126.88M514.58 128.52Q512.5 132.77 509.47 132.72" fill="none" stroke="#f8c2ea" stroke-width="3" stroke-linecap="round"/></g><g opacity="0.8"><path d="M520.69 98.18Q523.49 97.97 526.95 99.52M523.11 104.65Q525.91 104.44 529.38 105.99M525.6 111.25Q528.44 110.87 531.93 112.26M528.37 117.59Q531.16 117.22 534.7 118.59M531.14 123.92Q533.93 123.55 537.47 124.92" fill="none" stroke="#f2bce6" stroke-width="0.9" stroke-linecap="round"/><path d="M524.53 93.05Q523.38 97.68 520.69 98.18M526.95 99.52Q525.81 104.15 523.11 104.65M529.38 105.99Q528.27 110.69 525.6 111.25M531.93 112.26Q531.04 116.94 528.37 117.59M534.7 118.59Q533.81 123.27 531.14 123.92" fill="none" stroke="#fad2f0" stroke-width="3" stroke-linecap="round"/></g><g opacity="0.7"><path d="M491.15 87.55Q493.37 87.13 496.35 88.45M493.48 92.88Q495.7 92.47 498.68 93.78M495.82 98.22Q498.04 97.8 501.02 99.12" fill="none" stroke="#f2b4e2" stroke-width="0.9" stroke-linecap="round"/><path d="M494.02 83.12Q493.47 87.35 491.15 87.55M496.35 88.45Q495.8 92.69 493.48 92.88M498.68 93.78Q498.13 98.02 495.82 98.22" fill="none" stroke="#fad0ee" stroke-width="3" stroke-linecap="round"/></g><g opacity="0.6"><path d="M513.48 96.37Q515.88 96.38 519.02 98.13M516.48 103.37Q518.88 103.38 522.02 105.13" fill="none" stroke="#f4c0e8" stroke-width="0.9" stroke-linecap="round"/><path d="M516.02 91.13Q515.62 95.78 513.48 96.37M519.02 98.13Q518.62 102.78 516.48 103.37" fill="none" stroke="#fbd8f2" stroke-width="3" stroke-linecap="round"/></g><path d="M496 127 C504 136 512 142 520 134 S530 124 538 128" fill="none" stroke="#f4b8e4" stroke-width="1.1" opacity="0.9" stroke-linecap="round"/><path d="M484 120 C476 114 474 104 480 96" fill="none" stroke="#f0a8dc" stroke-width="1.1" opacity="0.9" stroke-linecap="round"/><path d="M512 135 C516 144 524 146 530 140" fill="none" stroke="#f6c0e6" stroke-width="1" opacity="0.9" stroke-linecap="round"/><ellipse cx="480" cy="146" rx="19" ry="24" fill="#f060b8" opacity="0.3"/><ellipse cx="470" cy="130" rx="12" ry="9" fill="#f060b8" opacity="0.3"/><ellipse cx="446" cy="180" rx="10" ry="22" fill="#f070c0" opacity="0.2"/><path d="M468 124 C476 114 488 118 492 126 S502 134 498 142" fill="none" stroke="#e8309e" stroke-width="1.3" opacity="1" stroke-linecap="round"/><path d="M476 174 C484 186 494 178 502 184 S508 180 512 172" fill="none" stroke="#d8188a" stroke-width="1.2" opacity="1" stroke-linecap="round"/><path d="M444 198 C450 206 458 198 464 204 S470 196 474 188" fill="none" stroke="#e0208f" stroke-width="1.2" opacity="1" stroke-linecap="round"/><path d="M458 150 C466 158 474 150 482 158 S490 166 496 160" fill="none" stroke="#e0208f" stroke-width="1.2" opacity="1" stroke-linecap="round"/><path d="M486 164 C492 172 500 170 506 178" fill="none" stroke="#e83aa0" stroke-width="1.2" opacity="1" stroke-linecap="round"/><g><path d="M496.06 141.28Q500.21 140.44 505 141.37M498.09 147.05Q502.25 146.21 507.03 147.14M500.13 152.82Q504.32 152.12 509.13 153.19M501.86 158.39Q506.06 157.83 510.77 159.09M503.5 164.28Q507.7 163.72 512.41 164.98M505.13 170.18Q509.34 169.62 514.05 170.88" fill="none" stroke="#a80c64" stroke-width="1.23" stroke-linecap="round"/><path d="M502.96 135.6Q500.24 140.52 496.06 141.28M505 141.37Q502.28 146.29 498.09 147.05M507.03 147.14Q504.32 152.06 500.13 152.82M509.13 153.19Q506.09 157.91 501.86 158.39M510.77 159.09Q507.72 163.81 503.5 164.28M512.41 164.98Q509.36 169.7 505.13 170.18" fill="none" stroke="#ee1e98" stroke-width="4.1" stroke-linecap="round"/></g><g><path d="M480.37 128.56Q484.42 129.84 488.2 133M479.41 134.94Q483.47 136.22 487.24 139.37M478.46 141.31Q482.51 142.59 486.29 145.74M477.39 147.36Q481.29 148.91 484.9 152.33M476 153.65Q479.95 155.21 483.5 158.62M474.6 159.94Q478.55 161.5 482.1 164.91" fill="none" stroke="#a80c64" stroke-width="1.23" stroke-linecap="round"/><path d="M489.15 126.62Q484.43 129.77 480.37 128.56M488.2 133Q483.48 136.15 479.41 134.94M487.24 139.37Q482.52 142.52 478.46 141.31M486.29 145.74Q481.51 148.73 477.39 147.36M484.9 152.33Q479.97 155.14 476 153.65M483.5 158.62Q478.57 161.43 474.6 159.94" fill="none" stroke="#e8158c" stroke-width="4.1" stroke-linecap="round"/></g><g><path d="M443.55 150.78Q447.69 151.75 451.66 154.61M443.03 157.04Q447.17 158.01 451.14 160.87M442.51 163.3Q446.64 164.27 450.62 167.13M441.99 169.56Q446.1 170.6 450.05 173.52M441.35 175.68Q445.45 176.78 449.33 179.76M440.63 181.92Q444.73 183.02 448.61 186M439.91 188.16Q444.01 189.26 447.89 192.24M439.19 194.4Q443.29 195.5 447.17 198.48" fill="none" stroke="#b00c6c" stroke-width="1.23" stroke-linecap="round"/><path d="M452.19 148.35Q447.69 151.76 443.55 150.78M451.66 154.61Q447.16 158.02 443.03 157.04M451.14 160.87Q446.64 164.28 442.51 163.3M450.62 167.13Q446.12 170.54 441.99 169.56M450.05 173.52Q445.45 176.79 441.35 175.68M449.33 179.76Q444.73 183.03 440.63 181.92M448.61 186Q444.01 189.27 439.91 188.16M447.89 192.24Q443.29 195.51 439.19 194.4" fill="none" stroke="#f020a0" stroke-width="4.1" stroke-linecap="round"/></g><g><path d="M432.93 168.74Q436.52 169.86 439.87 172.86M432.13 175.14Q435.72 176.26 439.07 179.26M431.33 181.54Q434.92 182.66 438.27 185.66M430.53 187.94Q434.12 189.06 437.47 192.06M429.73 194.34Q433.32 195.46 436.67 198.46" fill="none" stroke="#b8107a" stroke-width="1.23" stroke-linecap="round"/><path d="M440.67 166.46Q436.53 169.79 432.93 168.74M439.87 172.86Q435.73 176.19 432.13 175.14M439.07 179.26Q434.93 182.59 431.33 181.54M438.27 185.66Q434.13 188.99 430.53 187.94M437.47 192.06Q433.33 195.39 429.73 194.34" fill="none" stroke="#f030a8" stroke-width="4.1" stroke-linecap="round"/></g><g><path d="M465.86 124.24Q470.4 125.58 474.63 128.8M464.86 130.26Q469.4 131.61 473.63 134.82M463.85 136.28Q468.39 137.63 472.62 140.84M462.85 142.31Q467.37 143.75 471.58 147.05M461.76 148.12Q466.24 149.65 470.34 153.03M460.51 154.1Q464.99 155.63 469.09 159M459.27 160.08Q463.75 161.6 467.85 164.98M458.02 166.05Q462.5 167.58 466.6 170.96" fill="none" stroke="#b00c68" stroke-width="1.23" stroke-linecap="round"/><path d="M475.64 122.77Q470.39 125.68 465.86 124.24M474.63 128.8Q469.38 131.7 464.86 130.26M473.63 134.82Q468.38 137.73 463.85 136.28M472.62 140.84Q467.38 143.75 462.85 142.31M471.58 147.05Q466.22 149.74 461.76 148.12M470.34 153.03Q464.97 155.72 460.51 154.1M469.09 159Q463.73 161.7 459.27 160.08M467.85 164.98Q462.48 167.68 458.02 166.05" fill="none" stroke="#f0188f" stroke-width="4.1" stroke-linecap="round"/></g><g fill="none" stroke="#b0105a" stroke-width="2"><ellipse cx="462" cy="166" rx="3.6" ry="4.6" transform="rotate(0 462 166)"/><ellipse cx="466" cy="166.2" rx="3.6" ry="4.6" transform="rotate(0 466 166.2)"/><ellipse cx="470" cy="166.4" rx="3.6" ry="4.6" transform="rotate(0 470 166.4)"/><ellipse cx="474" cy="166.6" rx="3.6" ry="4.6" transform="rotate(0 474 166.6)"/></g><g fill="none" stroke="#e02090" stroke-width="1.6"><ellipse cx="487" cy="168" rx="3.2" ry="4.4" transform="rotate(0 487 168)"/><ellipse cx="490.6" cy="168" rx="3.2" ry="4.4" transform="rotate(0 490.6 168)"/><ellipse cx="494.2" cy="168" rx="3.2" ry="4.4" transform="rotate(0 494.2 168)"/></g><path d="M482 114 C488 110 494 114 496 120" fill="none" stroke="#f070c0" stroke-width="1.2" opacity="1" stroke-linecap="round"/><g><path d="M440.44 118.98Q444.5 121.43 447.8 125.61M437.94 124.7Q442 127.15 445.3 131.33M435.44 130.42Q439.49 132.87 442.8 137.05M432.93 136.15Q436.99 138.59 440.29 142.77M430.43 141.87Q434.49 144.32 437.79 148.5M427.92 147.59Q431.98 150.04 435.28 154.22M425.42 153.31Q429.48 155.76 432.78 159.94M422.92 159.04Q426.98 161.48 430.28 165.66M420.41 164.76Q424.47 167.21 427.77 171.39M417.91 170.48Q421.97 172.93 425.27 177.11M415.41 176.2Q419.46 178.65 422.77 182.83M412.9 182.12Q417.09 184.43 420.51 188.46M410.62 187.93Q414.77 190.23 418.23 194.28M408.34 193.75Q412.48 196.04 415.94 200.09M406.05 199.56Q410.2 201.85 413.66 205.9M403.77 205.37Q407.92 207.67 411.37 211.72" fill="none" stroke="#b80000" stroke-width="1.23" stroke-linecap="round"/><path d="M450.31 119.88Q444.49 121.45 440.44 118.98M447.8 125.61Q441.99 127.17 437.94 124.7M445.3 131.33Q439.48 132.9 435.44 130.42M442.8 137.05Q436.98 138.62 432.93 136.15M440.29 142.77Q434.48 144.34 430.43 141.87M437.79 148.5Q431.97 150.06 427.92 147.59M435.28 154.22Q429.47 155.79 425.42 153.31M432.78 159.94Q426.96 161.51 422.92 159.04M430.28 165.66Q424.46 167.23 420.41 164.76M427.77 171.39Q421.96 172.95 417.91 170.48M425.27 177.11Q419.45 178.68 415.41 176.2M422.77 182.83Q416.95 184.5 412.9 182.12M420.51 188.46Q414.76 190.25 410.62 187.93M418.23 194.28Q412.47 196.06 408.34 193.75M415.94 200.09Q410.19 201.88 406.05 199.56M413.66 205.9Q407.91 207.69 403.77 205.37" fill="none" stroke="#ff2a10" stroke-width="4.1" stroke-linecap="round"/></g><g><path d="M454.33 73.6Q458.87 75.68 462.85 79.56M452.45 79.71Q456.99 81.79 460.97 85.67M450.57 85.81Q455.11 87.89 459.09 91.78M448.69 91.92Q453.23 94 457.21 97.89M446.81 98Q451.33 100.1 455.3 104.02M444.9 104.1Q449.42 106.2 453.38 110.11M442.98 110.19Q447.51 112.3 451.47 116.21M441.06 116.29Q445.59 118.4 449.55 122.31M439.15 122.39Q443.67 124.49 447.63 128.4M437.23 128.48Q441.71 130.72 445.62 134.77M435.23 134.25Q439.63 136.61 443.36 140.75M432.97 140.22Q437.36 142.59 441.09 146.72M430.7 146.2Q435.1 148.56 438.82 152.7M428.43 152.17Q432.83 154.54 436.56 158.67M426.17 158.15Q430.64 160.39 434.43 164.4M424.03 164.46Q428.55 166.58 432.51 170.49M422.11 170.56Q426.63 172.67 430.58 176.59M420.18 176.65Q424.71 178.77 428.66 182.68M418.26 182.75Q422.78 184.86 426.74 188.78M416.33 188.84Q420.86 190.95 424.81 194.87M414.41 194.93Q418.93 197.05 422.89 200.96M412.83 202.18Q417.9 203.32 422.4 206.26M412.25 208.55Q417.12 209.65 421.82 212.63M411.67 214.91Q416.54 216.01 421.24 218.99M411.1 221.28Q415.97 222.37 420.67 225.35M410.52 227.64Q415.39 228.74 420.09 231.72M409.94 234.01Q414.81 235.1 419.51 238.08M409.36 240.37Q414.23 241.47 418.93 244.45" fill="none" stroke="#c89a00" stroke-width="1.23" stroke-linecap="round"/><path d="M464.73 73.46Q458.88 75.63 454.33 73.6M462.85 79.56Q457 81.74 452.45 79.71M460.97 85.67Q455.12 87.85 450.57 85.81M459.09 91.78Q453.24 93.96 448.69 91.92M457.21 97.89Q451.36 100.05 446.81 98M455.3 104.02Q449.44 106.16 444.9 104.1M453.38 110.11Q447.52 112.26 442.98 110.19M451.47 116.21Q445.6 118.35 441.06 116.29M449.55 122.31Q443.69 124.45 439.15 122.39M447.63 128.4Q441.77 130.55 437.23 128.48M445.62 134.77Q439.65 136.57 435.23 134.25M443.36 140.75Q437.38 142.55 432.97 140.22M441.09 146.72Q435.11 148.52 430.7 146.2M438.82 152.7Q432.85 154.5 428.43 152.17M436.56 158.67Q430.58 160.47 426.17 158.15M434.43 164.4Q428.57 166.53 424.03 164.46M432.51 170.49Q426.64 172.63 422.11 170.56M430.58 176.59Q424.72 178.72 420.18 176.65M428.66 182.68Q422.79 184.82 418.26 182.75M426.74 188.78Q420.87 190.91 416.33 188.84M424.81 194.87Q418.95 197 414.41 194.93M422.89 200.96Q417.19 203.68 412.83 202.18M422.4 206.26Q417.13 209.6 412.25 208.55M421.82 212.63Q416.55 215.97 411.67 214.91M421.24 218.99Q415.97 222.33 411.1 221.28M420.67 225.35Q415.39 228.69 410.52 227.64M420.09 231.72Q414.81 235.06 409.94 234.01M419.51 238.08Q414.23 241.42 409.36 240.37" fill="none" stroke="#ffdc00" stroke-width="4.1" stroke-linecap="round"/></g><g><path d="M443.03 71.22Q447.71 73.58 451.75 77.72M440.89 77.18Q445.57 79.54 449.6 83.68M438.74 83.14Q443.42 85.5 447.46 89.64M436.6 89.1Q441.27 91.46 445.31 95.6M434.45 94.87Q439.01 97.38 442.93 101.67M432.1 100.75Q436.69 103.27 440.58 107.55M429.75 106.63Q434.34 109.15 438.23 113.43M427.4 112.51Q431.99 115.03 435.88 119.31M425.16 118.08Q429.52 120.87 433.18 125.41M422.43 123.8Q426.85 126.61 430.46 131.13M419.71 129.52Q424.13 132.33 427.74 136.85M416.99 135.24Q421.41 138.05 425.01 142.57M414.26 140.96Q418.68 143.77 422.29 148.29M411.54 146.68Q415.96 149.49 419.57 154.01M408.81 152.39Q413.23 155.21 416.84 159.73M406.09 158.11Q410.62 160.78 414.34 165.16M403.51 164.28Q408.11 166.78 412.01 171.05M401.18 170.17Q405.78 172.68 409.69 176.94M398.85 176.06Q403.45 178.57 407.36 182.83M396.52 181.95Q401.12 184.46 405.03 188.72M394.19 187.84Q398.79 190.35 402.7 194.61M391.86 193.73Q396.46 196.24 400.37 200.5M389.53 199.62Q394.13 202.13 398.04 206.39M388.47 208.66Q394.24 208.22 399.31 209.54M389.82 214.85Q395.04 214.37 400.65 215.73M391.16 221.04Q396.38 220.56 402 221.92M392.51 227.23Q397.71 226.37 403.31 227.37M394.65 233.94Q399.75 232.74 405.5 233.31M396.84 239.88Q401.94 238.68 407.69 239.26M399.03 245.83Q404.13 244.63 409.88 245.2" fill="none" stroke="#c87000" stroke-width="1.23" stroke-linecap="round"/><path d="M453.89 71.76Q447.72 73.56 443.03 71.22M451.75 77.72Q445.57 79.52 440.89 77.18M449.6 83.68Q443.43 85.49 438.74 83.14M447.46 89.64Q441.28 91.45 436.6 89.1M445.31 95.6Q439.13 97.31 434.45 94.87M442.93 101.67Q436.7 103.26 432.1 100.75M440.58 107.55Q434.35 109.14 429.75 106.63M438.23 113.43Q431.99 115.02 427.4 112.51M435.88 119.31Q429.7 120.74 425.16 118.08M433.18 125.41Q426.86 126.59 422.43 123.8M430.46 131.13Q424.14 132.31 419.71 129.52M427.74 136.85Q421.41 138.03 416.99 135.24M425.01 142.57Q418.69 143.75 414.26 140.96M422.29 148.29Q415.97 149.47 411.54 146.68M419.57 154.01Q413.24 155.19 408.81 152.39M416.84 159.73Q410.52 160.91 406.09 158.11M414.34 165.16Q408.11 166.77 403.51 164.28M412.01 171.05Q405.79 172.66 401.18 170.17M409.69 176.94Q403.46 178.55 398.85 176.06M407.36 182.83Q401.13 184.44 396.52 181.95M405.03 188.72Q398.8 190.33 394.19 187.84M402.7 194.61Q396.47 196.22 391.86 193.73M400.37 200.5Q394.14 202.11 389.53 199.62M398.04 206.39Q392.45 209.58 388.47 208.66M399.31 209.54Q395.03 214.35 389.82 214.85M400.65 215.73Q396.38 220.54 391.16 221.04M402 221.92Q397.72 226.73 392.51 227.23M403.31 227.37Q399.74 232.72 394.65 233.94M405.5 233.31Q401.93 238.67 396.84 239.88M407.69 239.26Q404.12 244.61 399.03 245.83" fill="none" stroke="url(#gOr)" stroke-width="4.1" stroke-linecap="round"/></g><g><path d="M413.38 151.23Q416.51 153.28 418.86 157.05M410.87 156.75Q414 158.8 416.35 162.57M408.36 162.27Q411.49 164.32 413.84 168.09M405.85 167.79Q408.99 169.82 411.35 173.58M403.35 173.34Q406.5 175.37 408.88 179.12M400.89 178.88Q404.04 180.91 406.42 184.66M398.43 184.43Q401.58 186.45 403.96 190.2M395.99 190.43Q399.45 192.12 402.15 195.53M394.18 196.22Q397.54 197.86 400.34 201.32M392.37 202Q395.73 203.65 398.53 207.1" fill="none" stroke="#c05400" stroke-width="1.23" stroke-linecap="round"/><path d="M421.37 151.53Q416.46 153.39 413.38 151.23M418.86 157.05Q413.95 158.91 410.87 156.75M416.35 162.57Q411.44 164.43 408.36 162.27M413.84 168.09Q408.93 169.94 405.85 167.79M411.35 173.58Q406.45 175.48 403.35 173.34M408.88 179.12Q403.99 181.02 400.89 178.88M406.42 184.66Q401.53 186.56 398.43 184.43M403.96 190.2Q399.08 192.33 395.99 190.43M402.15 195.53Q397.51 197.98 394.18 196.22M400.34 201.32Q395.7 203.76 392.37 202" fill="none" stroke="#ff9a10" stroke-width="4.1" stroke-linecap="round"/></g><g><path d="M471.24 68.13Q475.62 70.52 479.31 74.68M468.94 74Q473.32 76.4 477.01 80.55M466.65 79.88Q471.03 82.27 474.72 86.42M464.35 85.75Q468.72 88.16 472.4 92.32M462.04 91.57Q466.4 94 470.06 98.18M459.7 97.43Q464.06 99.85 467.72 104.03M457.36 103.28Q461.72 105.71 465.38 109.89M455.01 109.14Q459.38 111.56 463.03 115.74M452.68 114.66Q456.83 117.33 460.28 121.75M449.98 120.36Q454.19 123.05 457.58 127.45M447.28 126.06Q451.49 128.75 454.88 133.15M444.59 131.76Q448.84 134.42 452.28 138.78M441.95 137.59Q446.21 140.2 449.69 144.53M439.37 143.34Q443.62 145.95 447.1 150.28M436.78 149.09Q441.03 151.7 444.51 156.03" fill="none" stroke="#b80000" stroke-width="1.23" stroke-linecap="round"/><path d="M481.61 68.8Q475.62 70.52 471.24 68.13M479.31 74.68Q473.32 76.39 468.94 74M477.01 80.55Q471.03 82.26 466.65 79.88M474.72 86.42Q468.73 88.14 464.35 85.75M472.4 92.32Q466.4 94 462.04 91.57M470.06 98.18Q464.06 99.85 459.7 97.43M467.72 104.03Q461.72 105.71 457.36 103.28M465.38 109.89Q459.38 111.56 455.01 109.14M463.03 115.74Q457.04 117.25 452.68 114.66M460.28 121.75Q454.19 123.05 449.98 120.36M457.58 127.45Q451.49 128.75 447.28 126.06M454.88 133.15Q448.79 134.44 444.59 131.76M452.28 138.78Q446.21 140.2 441.95 137.59M449.69 144.53Q443.62 145.95 439.37 143.34M447.1 150.28Q441.04 151.7 436.78 149.09" fill="none" stroke="#ff2200" stroke-width="4.1" stroke-linecap="round"/></g><g><path d="M419.04 180.42Q421.93 181.96 424.34 185.33M417.29 186.92Q420.18 188.46 422.59 191.83M415.54 193.42Q418.43 194.96 420.84 198.33M413.79 199.92Q416.68 201.46 419.09 204.83" fill="none" stroke="#b80000" stroke-width="1.23" stroke-linecap="round"/><path d="M426.09 178.83Q421.99 181.75 419.04 180.42M424.34 185.33Q420.24 188.25 417.29 186.92M422.59 191.83Q418.49 194.75 415.54 193.42M420.84 198.33Q416.74 201.25 413.79 199.92" fill="none" stroke="#ff3010" stroke-width="4.1" stroke-linecap="round"/></g><g><path d="M387.14 230.79Q390.8 231.56 394.36 234.21M386.81 236.79Q390.47 237.56 394.03 240.21M386.47 242.79Q390.14 243.56 393.69 246.21" fill="none" stroke="#b02800" stroke-width="1.23" stroke-linecap="round"/><path d="M394.69 228.21Q390.79 231.7 387.14 230.79M394.36 234.21Q390.46 237.7 386.81 236.79M394.03 240.21Q390.13 243.7 386.47 242.79" fill="none" stroke="#ff5a10" stroke-width="4.1" stroke-linecap="round"/></g><path d="M454 71 C455 64 462 63 465 70" fill="none" stroke="#e8c000" stroke-width="1.3" opacity="1" stroke-linecap="round"/><path d="M421 212 C430 214 436 220 444 226" fill="none" stroke="#e8303a" stroke-width="1.1" opacity="1" stroke-linecap="round"/><path d="M324 204 L326 186 L330 172 L336 162 L346 160 L356 166 L360 178 L362 190 L366 198 L364 206 L340 207 Z" fill="#3040e8" opacity="0.12"/><ellipse cx="348" cy="222" rx="25" ry="15" fill="#20c0e0" opacity="0.3"/><ellipse cx="328" cy="249" rx="20" ry="13" fill="#20d090" opacity="0.3"/><ellipse cx="361" cy="244" rx="17" ry="11" fill="#30c830" opacity="0.2"/><ellipse cx="388" cy="250" rx="14" ry="9" fill="#d0e860" opacity="0.22"/><path d="M331 182 C327 172 330 163 338 162 C345 161 349 168 347 176" fill="none" stroke="#3048f0" stroke-width="1.4" opacity="1" stroke-linecap="round"/><path d="M341 178 C340 170 346 166 352 168 C357 170 357 178 352 182" fill="none" stroke="#3048f0" stroke-width="1.4" opacity="1" stroke-linecap="round"/><path d="M334 172 C336 167 341 167 342 172" fill="none" stroke="#3a58f0" stroke-width="1.2" opacity="1" stroke-linecap="round"/><path d="M326 206 C330 213 338 209 342 205" fill="none" stroke="#2840e0" stroke-width="1.3" opacity="1" stroke-linecap="round"/><path d="M336 201 C340 194 346 196 348 190" fill="none" stroke="#2030d8" stroke-width="1.2" opacity="1" stroke-linecap="round"/><path d="M327.26 207.36 L332.45 182.28 L334.04 182.61 L331.5 178 L327.34 181.22 L328.93 181.55 L323.74 206.64Z" fill="#1a22d6"/><path d="M332.63 202.76 L343.45 179.39 L344.92 180.07 L343.5 175 L338.72 177.19 L340.19 177.87 L329.37 201.24Z" fill="#1a22d6"/><path d="M338.43 197.72 L348.64 177.29 L349.93 177.94 L349 173 L344.49 175.22 L345.78 175.86 L335.57 196.28Z" fill="#2232e0"/><path d="M342.27 183.54 L356.66 190.33 L356 191.71 L361 190.5 L358.76 185.87 L358.11 187.25 L343.73 180.46Z" fill="#1a22d6"/><path d="M340.37 190.36 L355.37 197.36 L356.63 194.64 L341.63 187.64Z" fill="#2230dc"/><path d="M342 196.5 L364 196.5 L366 200 L364 204 L342 204 L340 200 Z" fill="#1212c8"/><path d="M345 197.5 L345 203 M349 197.5 L349 203 M353 197.5 L353 203 M357 197.5 L357 203 M361 197.5 L361 203" fill="none" stroke="#4a5cf8" stroke-width="1" opacity="1" stroke-linecap="round"/><path d="M333 206 C338 214 346 208 352 214 S360 210 366 216" fill="none" stroke="#18c0e0" stroke-width="1.4" opacity="1" stroke-linecap="round"/><path d="M330 224 C334 230 344 226 348 232" fill="none" stroke="#20c8e0" stroke-width="1.4" opacity="1" stroke-linecap="round"/><path d="M338 210 C342 218 350 222 356 219" fill="none" stroke="#10b8d8" stroke-width="1.3" opacity="1" stroke-linecap="round"/><path d="M344 206 C350 202 356 208 362 206" fill="none" stroke="#20a8e0" stroke-width="1.3" opacity="1" stroke-linecap="round"/><path d="M322 230 C326 222 332 226 336 220" fill="none" stroke="#18c8d8" stroke-width="1.3" opacity="1" stroke-linecap="round"/><path d="M340 226 C346 232 352 226 358 230" fill="none" stroke="#18c0d0" stroke-width="1.3" opacity="1" stroke-linecap="round"/><g fill="none" stroke="#2878d8" stroke-width="1.6"><ellipse cx="330.5" cy="217.5" rx="3.2" ry="4.5" transform="rotate(0 330.5 217.5)"/><ellipse cx="333.9" cy="217.5" rx="3.2" ry="4.5" transform="rotate(0 333.9 217.5)"/><ellipse cx="337.3" cy="217.5" rx="3.2" ry="4.5" transform="rotate(0 337.3 217.5)"/></g><g fill="none" stroke="#2898c0" stroke-width="1.7"><ellipse cx="354" cy="221.5" rx="3.4" ry="5.4" transform="rotate(0 354 221.5)"/><ellipse cx="357.7" cy="221.1" rx="3.4" ry="5.4" transform="rotate(0 357.7 221.1)"/><ellipse cx="361.4" cy="220.7" rx="3.4" ry="5.4" transform="rotate(0 361.4 220.7)"/><ellipse cx="365.1" cy="220.3" rx="3.4" ry="5.4" transform="rotate(0 365.1 220.3)"/><ellipse cx="368.8" cy="219.9" rx="3.4" ry="5.4" transform="rotate(0 368.8 219.9)"/></g><g fill="none" stroke="#20a888" stroke-width="1.7"><ellipse cx="338.5" cy="234" rx="3.2" ry="4.6" transform="rotate(0 338.5 234)"/><ellipse cx="342.1" cy="234" rx="3.2" ry="4.6" transform="rotate(0 342.1 234)"/><ellipse cx="345.7" cy="234" rx="3.2" ry="4.6" transform="rotate(0 345.7 234)"/><ellipse cx="349.3" cy="234" rx="3.2" ry="4.6" transform="rotate(0 349.3 234)"/><ellipse cx="352.9" cy="234" rx="3.2" ry="4.6" transform="rotate(0 352.9 234)"/></g><g fill="none" stroke="#20c0b8" stroke-width="1.6"><ellipse cx="327" cy="244.5" rx="3.2" ry="5" transform="rotate(0 327 244.5)"/><ellipse cx="330.5" cy="244.5" rx="3.2" ry="5" transform="rotate(0 330.5 244.5)"/><ellipse cx="334" cy="244.5" rx="3.2" ry="5" transform="rotate(0 334 244.5)"/><ellipse cx="337.5" cy="244.5" rx="3.2" ry="5" transform="rotate(0 337.5 244.5)"/></g><path d="M326 212 C322 220 330 224 334 230 S330 238 336 240" fill="none" stroke="#10c8e0" stroke-width="1.4" opacity="1" stroke-linecap="round"/><path d="M350 230 C354 236 362 232 366 238" fill="none" stroke="#20b0c0" stroke-width="1.3" opacity="1" stroke-linecap="round"/><path d="M360 210 C366 206 372 212 376 208" fill="none" stroke="#20a0e0" stroke-width="1.3" opacity="1" stroke-linecap="round"/><path d="M336 240 C340 246 346 242 350 248" fill="none" stroke="#20c0b0" stroke-width="1.3" opacity="1" stroke-linecap="round"/><path d="M310 240 C312 234 318 238 320 246 S316 256 310 254" fill="none" stroke="#20d070" stroke-width="1.4" opacity="1" stroke-linecap="round"/><path d="M312 258 C318 266 330 262 336 266 S346 262 348 256" fill="none" stroke="#20d070" stroke-width="1.3" opacity="1" stroke-linecap="round"/><g><path d="M319.7 252.89Q320.82 250.94 323.5 249.51M324.5 254.49Q325.62 252.54 328.3 251.11M329.3 256.09Q330.42 254.14 333.1 252.71M334.1 257.69Q335.22 255.74 337.9 254.31M338.9 259.29Q340.02 257.34 342.7 255.91" fill="none" stroke="#10a050" stroke-width="0.9" stroke-linecap="round"/><path d="M318.7 247.91Q321.03 251.01 319.7 252.89M323.5 249.51Q325.83 252.61 324.5 254.49M328.3 251.11Q330.63 254.21 329.3 256.09M333.1 252.71Q335.43 255.81 334.1 257.69M337.9 254.31Q340.23 257.41 338.9 259.29" fill="none" stroke="#22d070" stroke-width="3" stroke-linecap="round"/></g><path d="M314 246 C320 252 326 248 330 254" fill="none" stroke="#30d880" stroke-width="1.3" opacity="1" stroke-linecap="round"/><g fill="none" stroke="#18c018" stroke-width="1.8"><ellipse cx="351" cy="247" rx="3.4" ry="6" transform="rotate(0 351 247)"/><ellipse cx="354.8" cy="247" rx="3.4" ry="6" transform="rotate(0 354.8 247)"/><ellipse cx="358.6" cy="247" rx="3.4" ry="6" transform="rotate(0 358.6 247)"/><ellipse cx="362.4" cy="247" rx="3.4" ry="6" transform="rotate(0 362.4 247)"/><ellipse cx="366.2" cy="247" rx="3.4" ry="6" transform="rotate(0 366.2 247)"/></g><g fill="none" stroke="#20c030" stroke-width="1.8"><ellipse cx="368.5" cy="235.5" rx="3.4" ry="6.5" transform="rotate(0 368.5 235.5)"/><ellipse cx="372.3" cy="235.5" rx="3.4" ry="6.5" transform="rotate(0 372.3 235.5)"/><ellipse cx="376.1" cy="235.5" rx="3.4" ry="6.5" transform="rotate(0 376.1 235.5)"/></g><g fill="none" stroke="#10b810" stroke-width="1.6"><ellipse cx="357" cy="245" rx="3.4" ry="6" transform="rotate(0 357 245)"/><ellipse cx="361" cy="245" rx="3.4" ry="6" transform="rotate(0 361 245)"/></g><path d="M377 251 L380 238 L378.5 237.6 L382 233 L383 238.6 L381.6 238.4 L379 252 Z" fill="#30d030"/><path d="M372 230 C376 226 382 232 388 228" fill="none" stroke="#90d830" stroke-width="1.2" opacity="1" stroke-linecap="round"/><path d="M386 240 C390 246 396 244 400 250 S396 256 390 254" fill="none" stroke="#a0e040" stroke-width="1.6" opacity="1" stroke-linecap="round"/><path d="M362 254 C370 260 380 254 388 262 S400 266 408 258" fill="none" stroke="#e8ec90" stroke-width="1.2" opacity="1" stroke-linecap="round"/><path d="M364 244 C368 250 374 246 378 252" fill="none" stroke="#d8e870" stroke-width="1.1" opacity="1" stroke-linecap="round"/><path d="M396 256 C402 262 408 256 412 262" fill="none" stroke="#f0f0a8" stroke-width="1.1" opacity="1" stroke-linecap="round"/><path d="M308 246 C306 252 312 258 318 254 S326 260 330 256" fill="none" stroke="#28d070" stroke-width="1.4" opacity="1" stroke-linecap="round"/><path d="M322 238 C326 244 334 240 338 246" fill="none" stroke="#20c890" stroke-width="1.3" opacity="1" stroke-linecap="round"/><path d="M346 256 C352 262 360 256 366 262" fill="none" stroke="#30c040" stroke-width="1.3" opacity="1" stroke-linecap="round"/><path d="M312.67 253.56 L322.99 249.14 L323.6 250.54 L326 246 L321.05 244.61 L321.65 246.01 L311.33 250.44Z" fill="#18d060"/><path d="M318.41 259.65 L330.53 256.62 L330.9 258.1 L334 254 L329.34 251.84 L329.71 253.32 L317.59 256.35Z" fill="#20d868"/><path d="M326.36 263.46 L342.36 259.46 L341.64 256.54 L325.64 260.54Z" fill="#22cc5c"/><path d="M306 244 C304 236 312 232 316 238 S322 246 318 250" fill="none" stroke="#1ccc70" stroke-width="1.6" opacity="1" stroke-linecap="round"/><path d="M330 232 C334 226 342 230 346 224 S354 220 358 226" fill="none" stroke="#14b8d0" stroke-width="1.5" opacity="1" stroke-linecap="round"/><path d="M338 214 C334 208 340 204 346 208" fill="none" stroke="#18c4e8" stroke-width="1.5" opacity="1" stroke-linecap="round"/><path d="M362 222 C366 228 372 224 376 230" fill="none" stroke="#40b0c8" stroke-width="1.4" opacity="1" stroke-linecap="round"/><path d="M366 250 C370 244 376 248 380 242" fill="none" stroke="#b8e050" stroke-width="1.4" opacity="1" stroke-linecap="round"/><g fill="none" stroke="#ff4a10" stroke-width="1.8"><ellipse cx="386.5" cy="236.5" rx="3.2" ry="5.6" transform="rotate(0 386.5 236.5)"/><ellipse cx="389.7" cy="236.5" rx="3.2" ry="5.6" transform="rotate(0 389.7 236.5)"/><ellipse cx="392.9" cy="236.5" rx="3.2" ry="5.6" transform="rotate(0 392.9 236.5)"/></g></g>
</g>
</svg>
</div>
</body></html>
